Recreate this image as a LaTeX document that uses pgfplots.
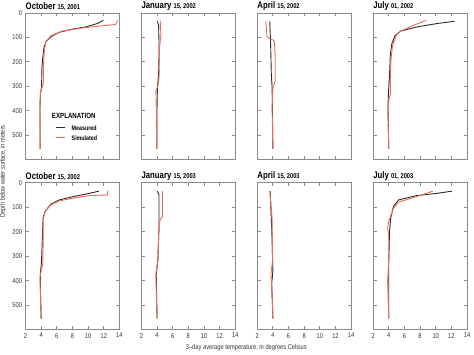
\documentclass[border=0pt]{standalone}
\usepackage{fontspec}
\setmainfont[FakeStretch=0.82]{Liberation Sans}
\usepackage{pgfplots}
\pgfplotsset{compat=1.18}
\usepgfplotslibrary{groupplots}
\definecolor{meas}{HTML}{2B2B2B}
\definecolor{sim}{HTML}{EE6B5C}
\definecolor{frame}{HTML}{8A8A8A}
\newcommand{\ptitle}[2]{\node[anchor=south west, inner sep=0pt, yshift=2pt] at (rel axis cs:0,1) {\bfseries\fontsize{9.5}{10}\selectfont #1 \fontsize{7}{8}\selectfont #2};}
\begin{document}
\begin{tikzpicture}
\begin{groupplot}[
  group style={group size=4 by 2, horizontal sep=22pt, vertical sep=23pt,
    xticklabels at=edge bottom, yticklabels at=edge left, group name=group},
  width=94pt, height=147pt, scale only axis, clip=false,
  xmin=2, xmax=14, ymin=0, ymax=600, y dir=reverse,
  xtick={2,4,...,14}, ytick={0,100,...,500},
  tick align=inside, major tick length=3.5pt,
  axis line style={frame, line width=0.9pt},
  tick style={frame, line width=0.9pt},
  /pgf/number format/assume math mode=true,
  tick label style={font=\fontsize{7}{7.5}\selectfont, text=black!80},
  every axis plot/.append style={line width=0.9pt, no markers},
]
% ---------- October 15, 2001
\nextgroupplot
\addplot[meas] coordinates {(11.96,30) (11.2,43) (9.7,57) (8.0,66) (6.3,79) (5.25,97) (4.6,117) (4.35,144) (4.2,184) (4.1,225) (4.05,305) (3.9,332) (3.85,386) (3.85,555)};
\addplot[sim] coordinates {(13.8,30) (13.5,47) (11.9,52) (9.3,61) (6.7,74) (5.25,93) (4.6,117) (4.4,157) (4.3,211) (4.3,285) (4.1,305) (3.9,326) (3.85,386) (3.9,555)};
\ptitle{October}{15, 2001}
\node[anchor=north west, inner sep=0pt, font=\bfseries\fontsize{7.5}{8}\selectfont] at (rel axis cs:0.28,0.315) {EXPLANATION};
\node[anchor=west, inner sep=0pt, font=\bfseries\fontsize{6.5}{7}\selectfont] at (rel axis cs:0.49,0.218) {Measured};
\node[anchor=west, inner sep=0pt, font=\bfseries\fontsize{6.5}{7}\selectfont] at (rel axis cs:0.49,0.150) {Simulated};
\draw[meas, line width=0.9pt] (rel axis cs:0.32,0.218) -- (rel axis cs:0.42,0.218);
\draw[sim, line width=0.9pt] (rel axis cs:0.32,0.150) -- (rel axis cs:0.42,0.150);
% ---------- January 15, 2002
\nextgroupplot
\addplot[meas] coordinates {(4.05,34) (4.2,50) (4.25,117) (4.25,184) (4.2,252) (4.05,305) (4.0,386) (4.0,555)};
\addplot[sim] coordinates {(4.4,30) (4.5,90) (4.3,144) (4.3,184) (4.25,272) (4.1,299) (3.85,319) (3.9,386) (3.95,555)};
\ptitle{January}{15, 2002}
% ---------- April 15, 2002
\nextgroupplot
\addplot[meas] coordinates {(3.6,34) (3.7,117) (3.8,252) (3.9,305) (4.0,555)};
\addplot[sim] coordinates {(3.1,34) (3.25,97) (3.55,104) (4.0,110) (4.2,117) (4.3,184) (4.3,278) (4.0,305) (3.9,386) (4.0,555)};
\ptitle{April}{15, 2002}
% ---------- July 01, 2002
\nextgroupplot
\addplot[meas] coordinates {(12.4,34) (10.2,43) (7.6,57) (5.5,74) (4.8,93) (4.4,124) (4.2,171) (4.1,252) (3.95,332) (3.9,386) (4.0,555)};
\addplot[sim] coordinates {(8.8,30) (7.2,50) (5.5,74) (5.0,90) (4.5,131) (4.3,184) (4.2,252) (4.2,332) (4.0,359) (3.9,400) (4.0,555)};
\ptitle{July}{01, 2002}
% ---------- October 15, 2002
\nextgroupplot
\addplot[meas] coordinates {(11.4,34) (10.2,43) (8.0,57) (6.3,70) (5.25,87) (4.5,117) (4.25,144) (4.2,184) (4.05,319) (3.9,373) (3.9,427) (4.0,555)};
\addplot[sim] coordinates {(12.5,34) (12.5,50) (10.2,52) (8.0,63) (6.3,74) (5.25,90) (4.5,117) (4.25,151) (4.25,252) (4.2,332) (4.0,359) (3.85,386) (4.0,555)};
\ptitle{October}{15, 2002}
% ---------- January 15, 2003
\nextgroupplot
\addplot[meas] coordinates {(4.05,34) (4.25,50) (4.25,151) (4.25,184) (4.1,319) (3.9,373) (4.0,555)};
\addplot[sim] coordinates {(4.7,34) (4.7,137) (4.4,151) (4.25,184) (4.1,319) (3.85,373) (4.0,555)};
\ptitle{January}{15, 2003}
% ---------- April 15, 2003
\nextgroupplot
\addplot[meas] coordinates {(3.65,34) (3.85,184) (4.0,359) (3.85,413) (4.0,555)};
\addplot[sim] coordinates {(3.6,34) (3.9,144) (3.95,319) (3.75,373) (3.95,494) (4.0,555)};
\ptitle{April}{15, 2003}
% ---------- July 01, 2003
\nextgroupplot
\addplot[meas] coordinates {(12.1,34) (10.2,43) (7.6,52) (5.25,70) (4.6,97) (4.25,144) (4.1,198) (4.0,319) (4.0,555)};
\addplot[sim] coordinates {(9.65,34) (8.0,52) (5.25,79) (4.6,104) (4.0,157) (3.85,184) (4.0,218) (4.0,319) (3.85,400) (4.0,555)};
\ptitle{July}{01, 2003}
\end{groupplot}
\path (group c1r1.south west) -- (group c1r2.north west) coordinate[midway] (ym);
\node[rotate=90, anchor=south, inner sep=0pt, font=\fontsize{6.8}{7}\selectfont, text=black!80] at ([xshift=-19pt]ym) {Depth below water surface, in meters};
\path (group c2r2.south east) -- (group c3r2.south west) coordinate[midway] (xm);
\node[anchor=north, inner sep=0pt, font=\fontsize{7}{8}\selectfont, text=black!80] at ([yshift=-15pt]xm) {3–day average temperature, in degrees Celsius};
\path ([shift={(-25pt,13pt)}]group c1r1.north west) rectangle ([shift={(7pt,-25pt)}]group c4r2.south east);
\end{tikzpicture}
\end{document}
